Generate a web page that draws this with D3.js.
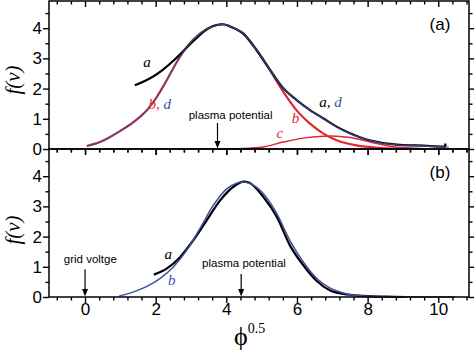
<!DOCTYPE html>
<html>
<head>
<meta charset="utf-8">
<script src="https://cdn.jsdelivr.net/npm/d3@7"></script>
<style>
  body { margin: 0; background: #fff; }
  svg { display: block; }
  .axis text { font-family: "Liberation Sans", Arial, sans-serif; font-size: 17px; fill: #000; }
  .axis path, .axis line { stroke: #000; stroke-width: 1.4; }
</style>
</head>
<body>
<div id="chart"></div>
<script>
// ---- panel (a) ----
// curve a (measured, black)
var topAx = [1.41, 1.7, 1.93, 2.2, 2.5, 2.75, 3.0, 3.2, 3.4, 3.63, 3.9, 4.1, 4.48, 4.86, 5.24, 5.61, 5.99, 6.37, 6.75, 7.12, 7.5, 7.88, 8.26, 8.63, 9.01, 9.58, 10.15, 10.2, 10.2];
var topAy = [2.11, 2.26, 2.4, 2.62, 2.92, 3.2, 3.5, 3.72, 3.92, 4.07, 4.13, 4.06, 3.82, 3.27, 2.62, 2.02, 1.62, 1.29, 1.01, 0.74, 0.52, 0.35, 0.24, 0.17, 0.13, 0.11, 0.08, 0.08, 0.18];
// curve b (red)
var topBx = [0.05, 0.42, 0.71, 1.0, 1.37, 1.75, 2.03, 2.31, 2.6, 2.88, 3.25, 3.63, 3.9, 4.1, 4.48, 4.86, 5.24, 5.61, 5.99, 6.37, 6.75, 7.12, 7.69, 8.3, 8.9, 9.5];
var topBy = [0.1, 0.23, 0.4, 0.6, 0.89, 1.28, 1.72, 2.27, 2.88, 3.38, 3.82, 4.07, 4.13, 4.06, 3.82, 3.27, 2.6, 1.9, 1.28, 0.84, 0.51, 0.29, 0.12, 0.04, 0.01, 0];
// curve c (red)
var topCx = [3.75, 4.3, 4.7, 5.05, 5.61, 6.18, 6.75, 7.0, 7.12, 7.5, 7.88, 8.26, 8.63, 9.2, 9.6];
var topCy = [0, 0.01, 0.03, 0.07, 0.23, 0.36, 0.42, 0.43, 0.42, 0.38, 0.29, 0.18, 0.09, 0.03, 0.01];
// curve d (blue)
var topDx = [0.05, 0.42, 0.71, 1.0, 1.37, 1.75, 2.03, 2.31, 2.6, 2.88, 3.25, 3.63, 3.9, 4.1, 4.48, 4.86, 5.24, 5.61, 5.99, 6.37, 6.75, 7.12, 7.5, 7.88, 8.26, 8.63, 9.01, 9.58, 10.15, 10.3];
var topDy = [0.1, 0.23, 0.4, 0.6, 0.89, 1.28, 1.72, 2.27, 2.88, 3.38, 3.82, 4.07, 4.13, 4.06, 3.82, 3.27, 2.62, 2.02, 1.61, 1.28, 1.0, 0.73, 0.51, 0.34, 0.23, 0.16, 0.12, 0.1, 0.07, 0.06];

// ---- panel (b) ----
var botAx = [1.95, 2.31, 2.69, 3.06, 3.44, 3.82, 4.2, 4.5, 4.62, 5.05, 5.43, 5.8, 6.18, 6.56, 6.93, 7.31, 7.88, 8.5, 9.1];
var botAy = [0.74, 0.94, 1.32, 1.87, 2.53, 3.19, 3.65, 3.82, 3.8, 3.31, 2.65, 1.71, 1.05, 0.53, 0.22, 0.1, 0.04, 0.01, 0];
var botBx = [0.97, 1.37, 1.75, 2.12, 2.5, 2.88, 3.25, 3.63, 4.01, 4.29, 4.45, 4.67, 5.05, 5.43, 5.8, 6.18, 6.56, 6.93, 7.31, 7.88, 8.5, 9.5, 10.47];
var botBy = [0.03, 0.17, 0.35, 0.61, 0.99, 1.55, 2.26, 3.03, 3.58, 3.77, 3.81, 3.76, 3.42, 2.76, 1.87, 1.16, 0.61, 0.3, 0.13, 0.03, 0.01, 0, 0];

// axis ticks
var xMajor = [0, 2, 4, 6, 8, 10];
var xMinor = [-0.8, -0.4, 0.4, 0.8, 1.2, 1.6, 2.4, 2.8, 3.2, 3.6, 4.4, 4.8, 5.2, 5.6, 6.4, 6.8, 7.2, 7.6, 8.4, 8.8, 9.2, 9.6, 10.4, 10.8];
var yMajor = [0, 1, 2, 3, 4];
var yMinor = [0.5, 1.5, 2.5, 3.5, 4.5];

var red = "#e3262e", blue = "#3d4f9f";

var width = 474, height = 350;
var left = 49, right = 469;

var svg = d3.select("#chart").append("svg")
    .attr("width", width)
    .attr("height", height);

var x = d3.scaleLinear().domain([-1.02, 10.87]).range([left, right]);
var yTop = d3.scaleLinear().domain([0, 4.9]).range([149, 1]);
var yBot = d3.scaleLinear().domain([0, 4.9]).range([297, 149]);

function zip(xs, ys) { return xs.map(function(v, i) { return [v, ys[i]]; }); }

function drawAxes(y, labelsX) {
  var y0 = y.range()[0], y1 = y.range()[1];
  // bottom
  svg.append("g").attr("class", "axis").attr("transform", "translate(0," + y0 + ")")
    .call(d3.axisBottom(x).tickValues(xMajor).tickSize(6).tickPadding(0)
      .tickFormat(labelsX ? d3.format("d") : ""));
  svg.append("g").attr("class", "axis").attr("transform", "translate(0," + y0 + ")")
    .call(d3.axisBottom(x).tickValues(xMinor).tickSize(3.5).tickFormat(""));
  // top (inward)
  svg.append("g").attr("class", "axis").attr("transform", "translate(0," + y1 + ")")
    .call(d3.axisTop(x).tickValues(xMajor).tickSize(-6).tickFormat(""));
  svg.append("g").attr("class", "axis").attr("transform", "translate(0," + y1 + ")")
    .call(d3.axisTop(x).tickValues(xMinor).tickSize(-3.5).tickFormat(""));
  // left
  svg.append("g").attr("class", "axis").attr("transform", "translate(" + left + ",0)")
    .call(d3.axisLeft(y).tickValues(yMajor).tickSize(6).tickPadding(1).tickFormat(d3.format("d")));
  svg.append("g").attr("class", "axis").attr("transform", "translate(" + left + ",0)")
    .call(d3.axisLeft(y).tickValues(yMinor).tickSize(3.5).tickFormat(""));
  // right
  svg.append("g").attr("class", "axis").attr("transform", "translate(" + right + ",0)")
    .call(d3.axisRight(y).tickValues(yMajor).tickSize(6).tickFormat(""));
  svg.append("g").attr("class", "axis").attr("transform", "translate(" + right + ",0)")
    .call(d3.axisRight(y).tickValues(yMinor).tickSize(3.5).tickFormat(""));
  svg.selectAll(".axis .domain").attr("d", null);
  // frame
  svg.append("rect")
    .attr("x", left).attr("y", y1)
    .attr("width", right - left).attr("height", y0 - y1)
    .attr("fill", "none").attr("stroke", "#000").attr("stroke-width", 1.5);
}

function curve(y, xs, ys, color, w, op) {
  var line = d3.line()
    .x(function(d) { return x(d[0]); })
    .y(function(d) { return y(d[1]); })
    .curve(d3.curveMonotoneX);
  svg.append("path")
    .datum(zip(xs, ys))
    .attr("d", line)
    .attr("fill", "none")
    .attr("stroke", color)
    .attr("stroke-width", w)
    .attr("stroke-opacity", op || 1)
    .attr("stroke-linejoin", "round");
}

function arrow(y, xv, yTopVal, label, lx, ly) {
  var px = x(xv), pyTop = y(yTopVal), pyBot = y(0);
  svg.append("line")
    .attr("x1", px).attr("x2", px)
    .attr("y1", pyTop).attr("y2", pyBot - 5)
    .attr("stroke", "#000").attr("stroke-width", 1.2);
  svg.append("path")
    .attr("d", "M" + (px - 3) + "," + (pyBot - 8) + "L" + (px + 3) + "," + (pyBot - 8) + "L" + px + "," + (pyBot - 0.5) + "Z")
    .attr("fill", "#000");
  svg.append("text")
    .attr("x", x(lx)).attr("y", y(ly))
    .attr("text-anchor", "middle")
    .style("font-family", "Liberation Sans, Arial, sans-serif")
    .style("font-size", "11.5px")
    .text(label);
}

function italicLabel(y, xv, yv, parts) {
  var t = svg.append("text")
    .attr("x", x(xv)).attr("y", y(yv))
    .style("font-family", "Liberation Serif, Times New Roman, serif")
    .style("font-style", "italic")
    .style("font-size", "15px");
  parts.forEach(function(p) {
    t.append("tspan").attr("fill", p[1]).text(p[0]);
  });
}

// ---- panel (a) ----
curve(yTop, topCx, topCy, red, 1.5);
curve(yTop, topBx, topBy, red, 2.2);
curve(yTop, topAx, topAy, "#000", 2.2);
curve(yTop, topDx, topDy, blue, 1.3, 0.85);
drawAxes(yTop, false);
arrow(yTop, 3.75, 0.86, "plasma potential", 4.12, 1.0);
italicLabel(yTop, 1.65, 2.7, [["a", "#000"]]);
italicLabel(yTop, 1.8, 1.32, [["b,", red], [" d", blue]]);
italicLabel(yTop, 6.63, 1.38, [["a,", "#000"], [" d", blue]]);
italicLabel(yTop, 5.85, 0.85, [["b", red]]);
italicLabel(yTop, 5.42, 0.35, [["c", red]]);
svg.append("text")
  .attr("x", 440).attr("y", 30)
  .attr("text-anchor", "middle")
  .style("font-family", "Liberation Sans, Arial, sans-serif")
  .style("font-size", "17px")
  .text("(a)");

// ---- panel (b) ----
curve(yBot, botAx, botAy, "#000", 2.2);
curve(yBot, botBx, botBy, blue, 1.5);
drawAxes(yBot, true);
arrow(yBot, 0, 0.92, "grid voltge", 0.15, 1.12);
arrow(yBot, 4.42, 0.76, "plasma potential", 4.5, 1.0);
italicLabel(yBot, 2.25, 1.27, [["a", "#000"]]);
italicLabel(yBot, 2.35, 0.4, [["b", blue]]);
svg.append("text")
  .attr("x", 440).attr("y", 178)
  .attr("text-anchor", "middle")
  .style("font-family", "Liberation Sans, Arial, sans-serif")
  .style("font-size", "17px")
  .text("(b)");

// y labels f(v)
[80, 230].forEach(function(cy) {
  svg.append("text")
    .attr("transform", "translate(20," + cy + ") rotate(-90)")
    .attr("text-anchor", "middle")
    .style("font-family", "Liberation Serif, Times New Roman, serif")
    .style("font-style", "italic")
    .style("font-size", "21px")
    .text("f(v)");
});

// x label
var xl = svg.append("text")
  .attr("x", 234).attr("y", 345)
  .style("font-family", "Liberation Serif, Times New Roman, serif")
  .style("font-size", "26px");
xl.append("tspan").text("\u03D5");
xl.append("tspan").attr("dy", -12).style("font-size", "14px").text("0.5");
</script>
</body>
</html>
